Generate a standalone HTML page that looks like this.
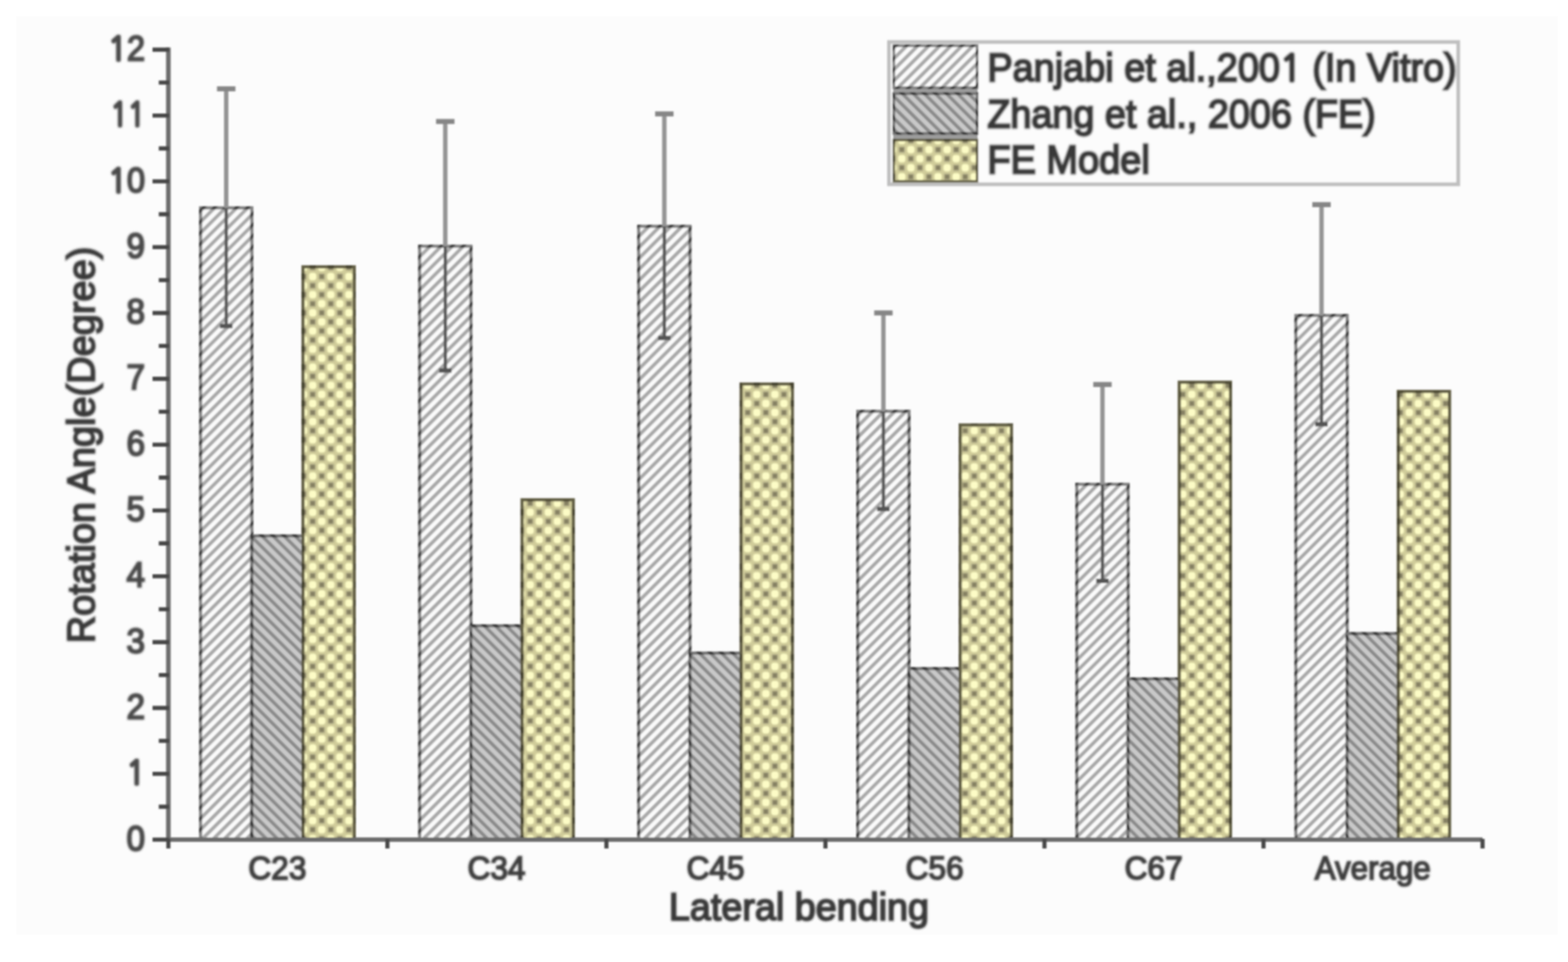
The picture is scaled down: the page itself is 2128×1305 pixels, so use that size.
<!DOCTYPE html>
<html><head><meta charset="utf-8"><title>Lateral bending</title>
<style>
html,body{margin:0;padding:0;background:#fff;overflow:hidden;}
svg{display:block;}
text{font-family:"Liberation Sans",Arial,sans-serif;}
</style></head><body>
<svg width="2128" height="1305" viewBox="0 0 2128 1305">
<defs>
<filter id="soft" x="-5%" y="-5%" width="110%" height="110%"><feGaussianBlur stdDeviation="1.3"/></filter>
<filter id="softT" x="-10%" y="-10%" width="120%" height="120%"><feGaussianBlur stdDeviation="1"/></filter>
<pattern id="pj" width="10.6" height="20" patternUnits="userSpaceOnUse" patternTransform="rotate(45)">
<rect width="10.6" height="20" fill="#fbfbfb"/><rect x="0" width="4.9" height="20" fill="#a9a9a9"/></pattern>
<pattern id="zh" width="10.6" height="20" patternUnits="userSpaceOnUse" patternTransform="rotate(-45)">
<rect width="10.6" height="20" fill="#c9c9c9"/><rect x="0" width="4.6" height="20" fill="#8a8a8a"/></pattern>
<pattern id="pjB" width="10.6" height="20" patternUnits="userSpaceOnUse" patternTransform="rotate(45)">
<rect width="10.6" height="20" fill="#858585"/><rect x="0" width="4.4" height="20" fill="#3e3e3e"/></pattern>
<pattern id="zhB" width="10.6" height="20" patternUnits="userSpaceOnUse" patternTransform="rotate(-45)">
<rect width="10.6" height="20" fill="#767676"/><rect x="0" width="5" height="20" fill="#3a3a3a"/></pattern>
<pattern id="feB" width="24.6" height="24.6" patternUnits="userSpaceOnUse">
<rect width="24.6" height="24.6" fill="#625e44"/>
<rect x="14.2" y="1.9" width="8.5" height="8.5" fill="#45422e"/>
<rect x="1.9" y="14.2" width="8.5" height="8.5" fill="#45422e"/>
</pattern>
<pattern id="fe" width="24.6" height="24.6" patternUnits="userSpaceOnUse">
<rect width="24.6" height="24.6" fill="#d0cc9a"/>
<rect x="1.3" y="1.3" width="9.7" height="9.7" rx="3.6" fill="#fdfcc6"/>
<rect x="13.6" y="13.6" width="9.7" height="9.7" rx="3.6" fill="#fdfcc6"/>
<rect x="14.2" y="1.9" width="8.5" height="8.5" fill="#b3ae88"/>
<rect x="1.9" y="14.2" width="8.5" height="8.5" fill="#b3ae88"/>
<rect x="15.45" y="3.15" width="6" height="6" fill="#858062"/>
<rect x="3.15" y="15.45" width="6" height="6" fill="#858062"/>
</pattern>
</defs>
<rect width="2128" height="1305" fill="#fff"/>
<rect x="22" y="22" width="2092" height="1246" fill="#fcfcfc"/>
<g filter="url(#soft)">

<rect x="272.25" y="282" width="69.5" height="857" fill="url(#pj)" stroke="url(#pjB)" stroke-width="4.3"/>
<rect x="341.75" y="727" width="69.5" height="412" fill="url(#zh)" stroke="url(#zhB)" stroke-width="4.3"/>
<rect x="411.25" y="362" width="69.5" height="777" fill="url(#fe)" stroke="url(#feB)" stroke-width="4.3"/>
<path d="M307 120.5V282" stroke="#949494" stroke-width="6" fill="none"/>
<path d="M294.5 120.5H319.5" stroke="#868686" stroke-width="6.8" fill="none"/>
<path d="M307 282V442.3" stroke="#5c5c5c" stroke-width="4.6" fill="none"/>
<path d="M298.5 442.3H315.5" stroke="#555" stroke-width="6" fill="none"/>
<rect x="569.55" y="334" width="69.5" height="805" fill="url(#pj)" stroke="url(#pjB)" stroke-width="4.3"/>
<rect x="639.05" y="849" width="69.5" height="290" fill="url(#zh)" stroke="url(#zhB)" stroke-width="4.3"/>
<rect x="708.55" y="678" width="69.5" height="461" fill="url(#fe)" stroke="url(#feB)" stroke-width="4.3"/>
<path d="M604.3 164.8V334" stroke="#949494" stroke-width="6" fill="none"/>
<path d="M591.8 164.8H616.8" stroke="#868686" stroke-width="6.8" fill="none"/>
<path d="M604.3 334V502.6" stroke="#5c5c5c" stroke-width="4.6" fill="none"/>
<path d="M595.8 502.6H612.8" stroke="#555" stroke-width="6" fill="none"/>
<rect x="866.85" y="307" width="69.5" height="832" fill="url(#pj)" stroke="url(#pjB)" stroke-width="4.3"/>
<rect x="936.35" y="886" width="69.5" height="253" fill="url(#zh)" stroke="url(#zhB)" stroke-width="4.3"/>
<rect x="1005.85" y="521" width="69.5" height="618" fill="url(#fe)" stroke="url(#feB)" stroke-width="4.3"/>
<path d="M901.6 154.5V307" stroke="#949494" stroke-width="6" fill="none"/>
<path d="M889.1 154.5H914.1" stroke="#868686" stroke-width="6.8" fill="none"/>
<path d="M901.6 307V458.5" stroke="#5c5c5c" stroke-width="4.6" fill="none"/>
<path d="M893.1 458.5H910.1" stroke="#555" stroke-width="6" fill="none"/>
<rect x="1164.15" y="558" width="69.5" height="581" fill="url(#pj)" stroke="url(#pjB)" stroke-width="4.3"/>
<rect x="1233.65" y="907" width="69.5" height="232" fill="url(#zh)" stroke="url(#zhB)" stroke-width="4.3"/>
<rect x="1303.15" y="576.5" width="69.5" height="562.5" fill="url(#fe)" stroke="url(#feB)" stroke-width="4.3"/>
<path d="M1198.9 424.5V558" stroke="#949494" stroke-width="6" fill="none"/>
<path d="M1186.4 424.5H1211.4" stroke="#868686" stroke-width="6.8" fill="none"/>
<path d="M1198.9 558V690.5" stroke="#5c5c5c" stroke-width="4.6" fill="none"/>
<path d="M1190.4 690.5H1207.4" stroke="#555" stroke-width="6" fill="none"/>
<rect x="1461.45" y="657" width="69.5" height="482" fill="url(#pj)" stroke="url(#pjB)" stroke-width="4.3"/>
<rect x="1530.95" y="921" width="69.5" height="218" fill="url(#zh)" stroke="url(#zhB)" stroke-width="4.3"/>
<rect x="1600.45" y="518.5" width="69.5" height="620.5" fill="url(#fe)" stroke="url(#feB)" stroke-width="4.3"/>
<path d="M1496.2 521.6V657" stroke="#949494" stroke-width="6" fill="none"/>
<path d="M1483.7 521.6H1508.7" stroke="#868686" stroke-width="6.8" fill="none"/>
<path d="M1496.2 657V788" stroke="#5c5c5c" stroke-width="4.6" fill="none"/>
<path d="M1487.7 788H1504.7" stroke="#555" stroke-width="6" fill="none"/>
<rect x="1758.75" y="428" width="69.5" height="711" fill="url(#pj)" stroke="url(#pjB)" stroke-width="4.3"/>
<rect x="1828.25" y="859.5" width="69.5" height="279.5" fill="url(#zh)" stroke="url(#zhB)" stroke-width="4.3"/>
<rect x="1897.75" y="531" width="69.5" height="608" fill="url(#fe)" stroke="url(#feB)" stroke-width="4.3"/>
<path d="M1793.5 277.6V428" stroke="#949494" stroke-width="6" fill="none"/>
<path d="M1781 277.6H1806" stroke="#868686" stroke-width="6.8" fill="none"/>
<path d="M1793.5 428V575.5" stroke="#5c5c5c" stroke-width="4.6" fill="none"/>
<path d="M1785 575.5H1802" stroke="#555" stroke-width="6" fill="none"/>
<path d="M228.5 64.5V1139M228.5 1139H2012" stroke="#6c6c6c" stroke-width="6.2" fill="none"/>
<path d="M207 1139H229.5M207 1049.7H229.5M207 960.4H229.5M207 871.1H229.5M207 781.8H229.5M207 692.5H229.5M207 603.2H229.5M207 513.9H229.5M207 424.6H229.5M207 335.3H229.5M207 246H229.5M207 156.7H229.5M207 67.4H229.5M215.5 1094.35H229.5M215.5 1005.05H229.5M215.5 915.75H229.5M215.5 826.45H229.5M215.5 737.15H229.5M215.5 647.85H229.5M215.5 558.55H229.5M215.5 469.25H229.5M215.5 379.95H229.5M215.5 290.65H229.5M215.5 201.35H229.5M215.5 112.05H229.5M228.5 1138V1151M525.75 1138V1151M823 1138V1151M1120.25 1138V1151M1417.5 1138V1151M1714.75 1138V1151M2012 1138V1151" stroke="#474747" stroke-width="5.6" fill="none"/>
<g filter="url(#softT)" font-size="47.25" fill="#4a4a4a" stroke="#4a4a4a" stroke-width="2.5" text-anchor="end" lengthAdjust="spacingAndGlyphs">
<text x="196.8" y="1153.5" textLength="25.03" lengthAdjust="spacingAndGlyphs">0</text>
<text x="196.8" y="1064.2" textLength="25.03" lengthAdjust="spacingAndGlyphs"><tspan font-family="NanumGothic,Liberation Sans,sans-serif" font-size="0.95em" stroke-width="3.8">1</tspan></text>
<text x="196.8" y="974.9" textLength="25.03" lengthAdjust="spacingAndGlyphs">2</text>
<text x="196.8" y="885.6" textLength="25.03" lengthAdjust="spacingAndGlyphs">3</text>
<text x="196.8" y="796.3" textLength="25.03" lengthAdjust="spacingAndGlyphs">4</text>
<text x="196.8" y="707" textLength="25.03" lengthAdjust="spacingAndGlyphs">5</text>
<text x="196.8" y="617.7" textLength="25.03" lengthAdjust="spacingAndGlyphs">6</text>
<text x="196.8" y="528.4" textLength="25.03" lengthAdjust="spacingAndGlyphs">7</text>
<text x="196.8" y="439.1" textLength="25.03" lengthAdjust="spacingAndGlyphs">8</text>
<text x="196.8" y="349.8" textLength="25.03" lengthAdjust="spacingAndGlyphs">9</text>
<text x="196.8" y="260.5" textLength="50.06" lengthAdjust="spacingAndGlyphs"><tspan font-family="NanumGothic,Liberation Sans,sans-serif" font-size="0.95em" stroke-width="3.8">1</tspan>0</text>
<text x="196.8" y="171.2" textLength="46.72" lengthAdjust="spacingAndGlyphs"><tspan font-family="NanumGothic,Liberation Sans,sans-serif" font-size="0.95em" stroke-width="3.8">1</tspan><tspan font-family="NanumGothic,Liberation Sans,sans-serif" font-size="0.95em" stroke-width="3.8">1</tspan></text>
<text x="196.8" y="81.9" textLength="50.06" lengthAdjust="spacingAndGlyphs"><tspan font-family="NanumGothic,Liberation Sans,sans-serif" font-size="0.95em" stroke-width="3.8">1</tspan>2</text>
</g>
<g filter="url(#softT)" font-size="45" fill="#3c3c3c" stroke="#3c3c3c" stroke-width="2.1" text-anchor="middle">
<text x="376.5" y="1192.5" textLength="78.8" lengthAdjust="spacingAndGlyphs">C23</text>
<text x="673.8" y="1192.5" textLength="78.8" lengthAdjust="spacingAndGlyphs">C34</text>
<text x="971.1" y="1192.5" textLength="78.8" lengthAdjust="spacingAndGlyphs">C45</text>
<text x="1268.4" y="1192.5" textLength="78.8" lengthAdjust="spacingAndGlyphs">C56</text>
<text x="1565.7" y="1192.5" textLength="78.8" lengthAdjust="spacingAndGlyphs">C67</text>
<text x="1863" y="1192.5" textLength="157.4" lengthAdjust="spacingAndGlyphs">Average</text>
</g>
<g filter="url(#softT)" font-size="51.5" fill="#383838" stroke="#383838" stroke-width="2.3" text-anchor="middle">
<text x="1084.3" y="1248.2" textLength="353" lengthAdjust="spacingAndGlyphs">Lateral bending</text>
<text transform="translate(128 603.6) rotate(-90)" font-size="52.5" textLength="538" lengthAdjust="spacingAndGlyphs">Rotation Angle(Degree)</text>
</g>
<rect x="1206.5" y="57" width="772.5" height="193" fill="#fcfcfc" stroke="#bfbfbf" stroke-width="5"/>
<rect x="1212" y="61" width="115" height="186" fill="#9c9c9c"/>
<rect x="1213" y="62" width="113" height="57" fill="url(#pj)" stroke="url(#pjB)" stroke-width="3.8"/>
<rect x="1213" y="127" width="113" height="54" fill="url(#zh)" stroke="url(#zhB)" stroke-width="3.8"/>
<rect x="1213" y="190" width="113" height="56" fill="url(#fe)" stroke="url(#feB)" stroke-width="3.2"/>
<g filter="url(#softT)" font-size="53.45" fill="#383838" stroke="#383838" stroke-width="2.8">
<text x="1340" y="110" textLength="637" lengthAdjust="spacingAndGlyphs">Panjabi et al.,200<tspan font-family="NanumGothic,Liberation Sans,sans-serif" font-size="0.95em" stroke-width="3.8">1</tspan> (In Vitro)</text>
<text x="1340" y="172.5" textLength="527" lengthAdjust="spacingAndGlyphs">Zhang et al., 2006 (FE)</text>
<text x="1340" y="235.2" textLength="220.4" lengthAdjust="spacingAndGlyphs">FE Model</text>
</g>
</g>
</svg>
</body></html>
